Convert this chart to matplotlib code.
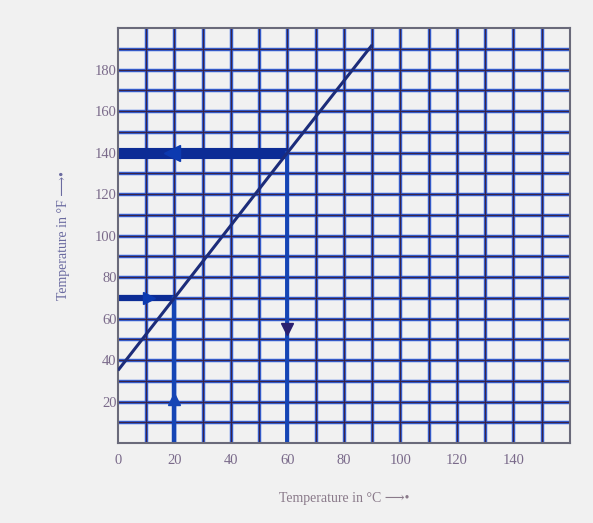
import matplotlib
matplotlib.use("Agg")
import matplotlib.pyplot as plt
import numpy as np

# Data
celsius_pts = [0, 20, 60, 90]
fahrenheit_pts = [35, 70, 140, 192]
x_ticks = [0, 20, 40, 60, 80, 100, 120, 140]
y_ticks = [20, 40, 60, 80, 100, 120, 140, 160, 180]
read_c = [20, 60]
read_f = [70, 140]

plt.rcParams['font.family'] = ['Liberation Serif', 'DejaVu Serif']

fig = plt.figure(figsize=(5.93, 5.23), dpi=100, facecolor='#f1f1f1')
ax = fig.add_axes([0.199, 0.153, 0.762, 0.793])
ax.set_facecolor('#f1f1f1')
ax.set_xlim(0, 160)
ax.set_ylim(0, 200)

# grid
for gx in range(10, 160, 10):
    ax.axvline(gx, color='#3468e6', lw=2.5, zorder=1)
    ax.axvline(gx, color='#3a2448', lw=1.0, zorder=1.1)
for gy in range(10, 200, 10):
    ax.axhline(gy, color='#3468e6', lw=2.5, zorder=1)
    ax.axhline(gy, color='#3a2448', lw=1.0, zorder=1.1)

# conversion line
ax.plot(celsius_pts, fahrenheit_pts, color='#1c2c7a', lw=2.2, zorder=3,
        solid_capstyle='butt')

# reading lines
c1, c2 = read_c
f1, f2 = read_f
ax.plot([0, c2], [f2, f2], color='#0c2c95', lw=8, zorder=2.5, solid_capstyle='butt')
ax.plot([c2, c2], [0, f2], color='#1545b5', lw=2.8, zorder=2.5)
ax.plot([0, c1], [f1, f1], color='#0c2c95', lw=4.5, zorder=2.5, solid_capstyle='butt')
ax.plot([c1, c1], [0, f1], color='#1545b5', lw=3.2, zorder=2.5)

# arrow heads
ax.plot([19], [f2], marker='<', ms=11, color='#0c3ab0', zorder=4)
ax.plot([11], [f1], marker='>', ms=9, color='#0c3ab0', zorder=4)
ax.plot([c1], [21], marker='^', ms=8, color='#1545b5', zorder=4)
ax.plot([c2], [55], marker='v', ms=8, color='#2a2070', zorder=4)

for s in ax.spines.values():
    s.set_color('#6a6a7a')
    s.set_linewidth(1.5)

tick_color = '#7a6a8a'
ax.set_xticks(x_ticks)
ax.set_yticks(y_ticks)
ax.set_xticklabels([str(v) for v in x_ticks], color=tick_color, fontsize=10.5)
ax.set_yticklabels([str(v) for v in y_ticks], color=tick_color, fontsize=10.5)
ax.tick_params(length=0, pad=8)
ax.tick_params(axis='y', pad=1)

ax.set_xlabel('Temperature in °C ⟶•', color='#8a7a8a', fontsize=10,
              family=['Liberation Serif', 'DejaVu Serif'], labelpad=18)
ax.set_ylabel('Temperature in °F ⟶•', color='#6a6aa0', fontsize=10,
              family=['Liberation Serif', 'DejaVu Serif'], labelpad=18)

fig.savefig('out.png', dpi=100, facecolor=fig.get_facecolor())
